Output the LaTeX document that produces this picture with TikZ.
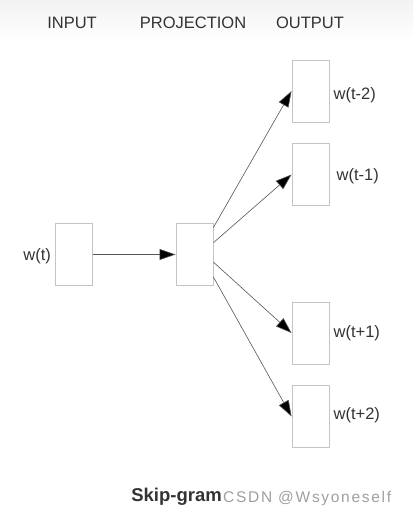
\documentclass[tikz,border=0pt]{standalone}
\usepackage{fontspec}
\setmainfont{Liberation Sans}
\usetikzlibrary{positioning,arrows.meta}
\definecolor{txtgray}{HTML}{333333}
\definecolor{boxgray}{HTML}{C4C4C4}
\definecolor{linegray}{HTML}{555555}
\begin{document}
\begin{tikzpicture}[x=1pt,y=-1pt,
  wordbox/.style={draw=boxgray, line width=0.9pt, minimum width=37pt, minimum height=62pt, inner sep=0pt},
  lbl/.style={text=txtgray, font=\fontsize{16.5}{19}\selectfont, inner sep=0pt},
  link/.style={draw=linegray, line width=0.6pt, -{Triangle[length=16pt,width=11pt,fill=black]}}]
\useasboundingbox (0,0) rectangle (413,522);
\fill[top color=gray!10, bottom color=white, draw=none] (0,0) rectangle (413,40);

% column titles
\node[lbl] (hin) at (72,23) {INPUT};
\node[lbl] (hproj) at (193,23) {PROJECTION};
\node[lbl] (hout) at (310,23) {OUTPUT};

% boxes
\node[wordbox] (in) at (74,254.5) {};
\node[wordbox] (proj) at (194.5,254.5) {};
\node[wordbox] (o1) at (310.5,91) {};
\node[wordbox] (o2) at (310.5,174.5) {};
\node[wordbox] (o3) at (310.5,333) {};
\node[wordbox] (o4) at (310.5,416.5) {};

% word labels
\node[lbl, left=4pt of in, yshift=-2pt] (lin) {w(t)};
\node[lbl, right=4pt of o1, yshift=-4pt] (l1) {w(t-2)};
\node[lbl, right=7pt of o2, yshift=-2pt] (l2) {w(t-1)};
\node[lbl, right=4pt of o3] (l3) {w(t+1)};
\node[lbl, right=4pt of o4, yshift=1pt] (l4) {w(t+2)};

% connections
\draw[link] (in.east) -- (proj.west);
\draw[link] (proj.55) -- (o1.west);
\draw[link] (proj.32) -- (o2.west);
\draw[link] (proj.-22) -- (o3.west);
\draw[link] (proj.-50) -- (o4.west);

\node[text=txtgray, font=\bfseries\fontsize{18.5}{21}\selectfont, inner sep=0pt, anchor=east] (title) at (222,497) {Skip-gram};
\node[text=gray!75, font=\fontsize{15.5}{18}\selectfont\addfontfeature{LetterSpace=11}, inner sep=0pt, anchor=west] (mark) at (223,498) {CSDN @Wsyoneself};
\end{tikzpicture}
\end{document}
